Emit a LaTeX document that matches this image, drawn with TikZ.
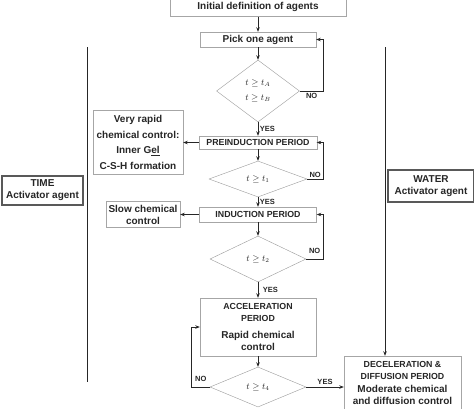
\documentclass[tikz,border=0pt]{standalone}
\usepackage{fontspec}
\setmainfont{Liberation Sans}
\usepackage{amsmath}
\usepackage{amssymb}
\usepackage{tikz}
\usetikzlibrary{arrows.meta,shapes.geometric}
\newcommand{\capsize}{\fontsize{8.8}{11}\selectfont}

\begin{document}
\begin{tikzpicture}[x=1pt,y=-1pt]
		\useasboundingbox (0,0) rectangle (474,408);
		\begin{scope}[every node/.style={rectangle,draw=black!35,thin,align=center,inner sep=1pt,text=black!85,font=\bfseries\fontsize{10}{12}\selectfont}]
		    \node[minimum width=176pt,minimum height=19pt] (init) at (258,7) {Initial definition of agents};
		    \node[minimum width=116pt,minimum height=15pt] (pick) at (258,39.5) {Pick one agent};
		    \node[minimum width=118pt,minimum height=13pt] (preind) at (258,142.5) {\capsize PREINDUCTION PERIOD};
		    \node[minimum width=90pt,minimum height=64pt,font=\bfseries\fontsize{10}{15.7}\selectfont] (rapid) at (138,142.5) {Very rapid\\chemical control:\\Inner G\underline{el}\\C-S-H formation};
		    \node[minimum width=117pt,minimum height=15pt] (induct) at (258,214.5) {\capsize INDUCTION PERIOD};
		    \node[minimum width=74pt,minimum height=26pt] (slow) at (143,214.5) {Slow chemical\\control};
		    \node[minimum width=116pt,minimum height=58pt] (accel) at (258,327) {\capsize ACCELERATION\\\capsize PERIOD\\[5pt]Rapid chemical\\control};
		    \node[minimum width=117pt,minimum height=54pt,font=\bfseries\fontsize{10}{11.5}\selectfont] (decel) at (402.5,383) {\capsize DECELERATION \&\\\capsize DIFFUSION PERIOD\\[2pt]Moderate chemical\\and diffusion control};
		\end{scope}
		
		\begin{scope}[every node/.style={diamond,draw=black!40,thin,inner sep=0pt,align=center,text=black!85,font=\fontsize{9}{15}\selectfont}]
		    \node[minimum width=83pt,minimum height=62pt] (d1) at (258,91) {$t \geq t_A$\\$t \geq t_B$};
		    \node[minimum width=98pt,minimum height=36pt] (d2) at (258,179) {$t \geq t_1$};
		    \node[minimum width=96pt,minimum height=46pt] (d3) at (258,259) {$t \geq t_2$};
		    \node[minimum width=96pt,minimum height=40pt] (d4) at (258,387) {$t \geq t_4$};
		\end{scope}
		
		\begin{scope}[every node/.style={rectangle,draw=black!65,line width=1.8pt,align=center,inner sep=1pt,text=black!85,font=\bfseries\fontsize{10}{12}\selectfont}]
		    \node[minimum width=81pt,minimum height=29pt] (time) at (42.5,190.5) {TIME\\Activator agent};
		    \node[minimum width=86pt,minimum height=32pt] (water) at (431,186) {WATER\\Activator agent};
		\end{scope}
		
		\coordinate (time-top) at (87,47);
		\coordinate (time-bot) at (87,382);
		\coordinate (water-top) at (385,47);
		
		\begin{scope}[>={Stealth[length=4.5pt,width=3.5pt]},
		              draw=black!85,line width=0.8pt,
		              every node/.style={inner sep=1.5pt,text=black!85,font=\bfseries\fontsize{7.5}{9}\selectfont},
		              every edge/.style={draw=black!85,line width=0.8pt,->}]
		    \path (init) edge (pick);
		    \path (pick) edge (d1);
		    \path (d1) edge node[right] {YES} (preind);
		    \path (preind) edge (d2);
		    \path (preind) edge (rapid);
		    \path (d2) edge node[right] {YES} (induct);
		    \path (induct) edge (d3);
		    \path (induct) edge (slow);
		    \path (d3) edge node[right,xshift=3pt] {YES} (accel);
		    \path (accel) edge (d4);
		    \path (d4.east) edge node[above,yshift=1pt] {YES} (d4.east -| decel.west);
		    \draw[->] (d1.east) -- node[below] {NO} ++(24,0) |- (pick.east);
		    \draw[->] (d2.east) -- node[above] {NO} ++(16,0) |- (induct.east |- preind.east);
		    \draw[->] (d3.east) -- node[above,yshift=4pt] {NO} ++(17,0) |- (induct.east);
		    \draw[->] (d4.west) -- node[above,yshift=4pt] {NO} ++(-18,0) |- (accel.west);
		    \path (time-top) edge[-] (time-bot);
		    \path (water-top) edge (water-top |- decel.north);
		\end{scope}
\end{tikzpicture}
\end{document}
